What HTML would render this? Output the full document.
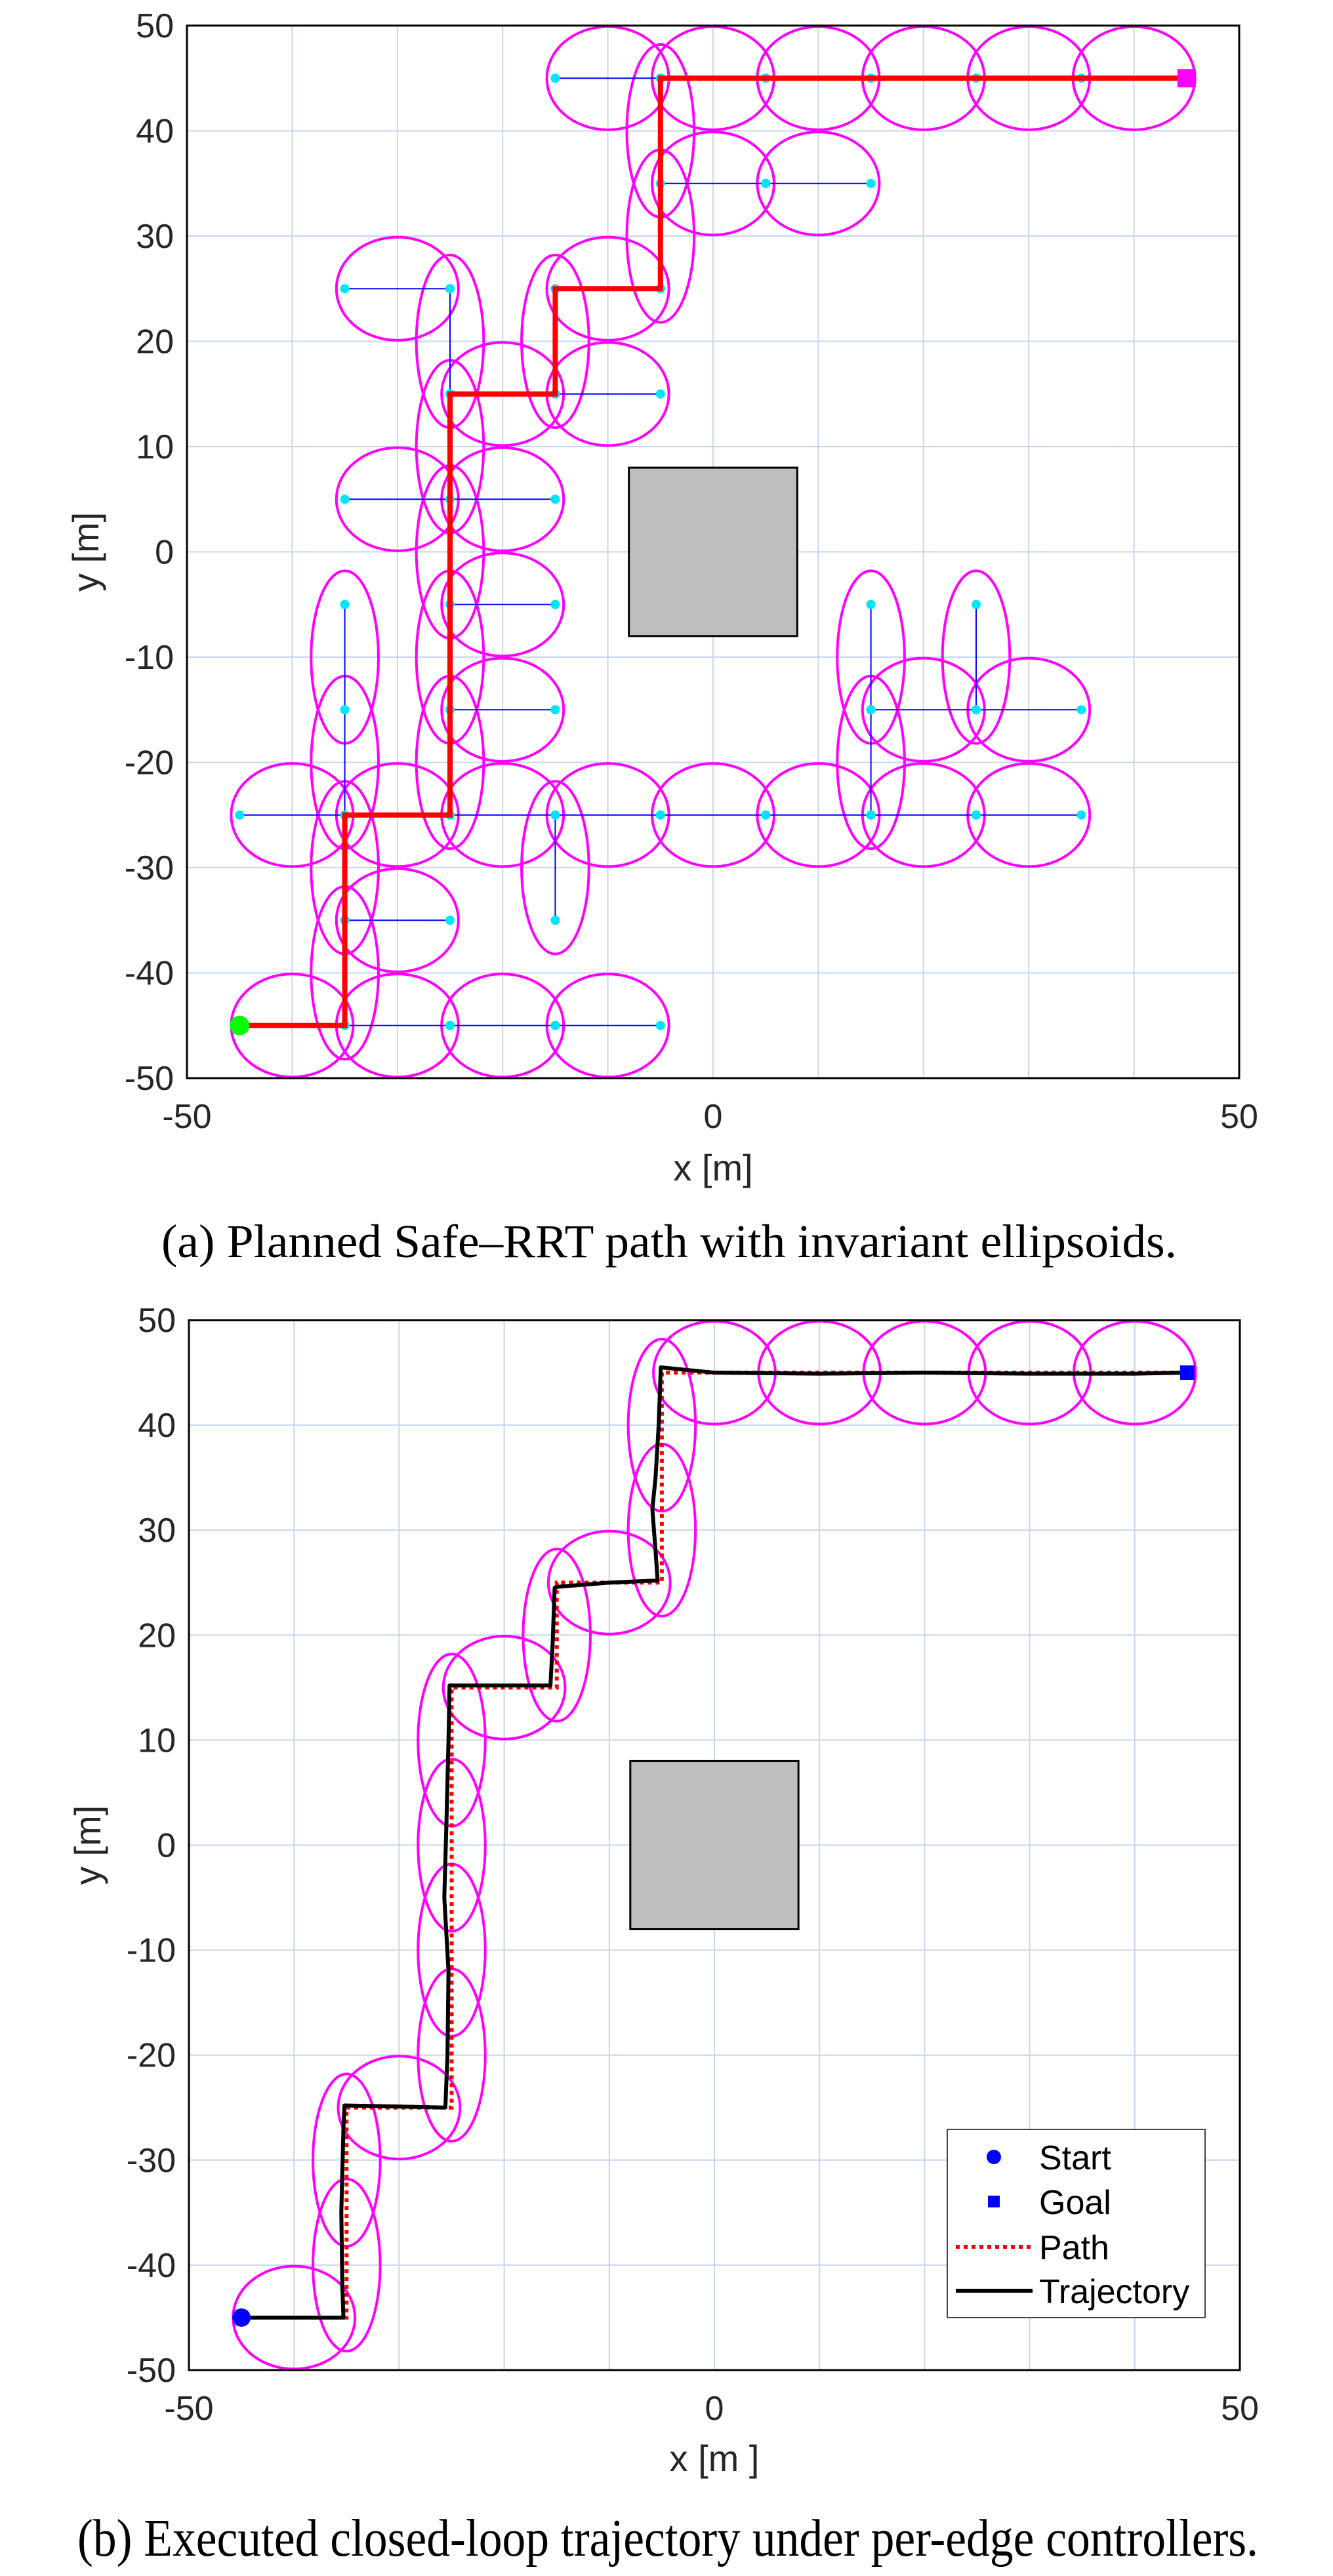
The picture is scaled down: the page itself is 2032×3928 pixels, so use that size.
<!DOCTYPE html>
<html><head><meta charset="utf-8"><style>
html,body{margin:0;padding:0;background:#fff;}
svg{display:block;}
</style></head><body>
<svg id="fig" xmlns="http://www.w3.org/2000/svg" width="2032" height="3928" viewBox="0 0 2032 3928">
<rect width="2032" height="3928" fill="#fff"/>
<g id="pa"></g>
<g id="pb"></g>
<text x="246" y="1917" font-family="Liberation Serif, serif" font-size="72" textLength="1548" lengthAdjust="spacingAndGlyphs">(a) Planned Safe–RRT path with invariant ellipsoids.</text>
<text x="118" y="3897" font-family="Liberation Serif, serif" font-size="80" textLength="1800" lengthAdjust="spacingAndGlyphs">(b) Executed closed-loop trajectory under per-edge controllers.</text>
</svg>
<script>
// ---- data ----
const xTicks = [-50, 0, 50];
const yTicks = [50, 40, 30, 20, 10, 0, -10, -20, -30, -40, -50];
const gridVals = [-40, -30, -20, -10, 0, 10, 20, 30, 40];
const obstacle = [-8, -8, 8, 8]; // xmin, ymin, xmax, ymax
const treeEdges = [
 [-15,45,-5,45],[-5,45,5,45],[5,45,15,45],[15,45,25,45],[25,45,35,45],[35,45,45,45],
 [-5,25,-5,35],[-5,35,-5,45],[-5,35,5,35],[5,35,15,35],
 [-15,25,-5,25],[-15,15,-15,25],[-25,15,-15,15],[-15,15,-5,15],
 [-35,25,-25,25],[-25,25,-25,15],[-25,15,-25,5],[-25,5,-25,-5],[-25,-5,-25,-15],[-25,-15,-25,-25],
 [-35,5,-25,5],[-25,5,-15,5],[-25,-5,-15,-5],[-25,-15,-15,-15],
 [-35,-5,-35,-15],[-35,-15,-35,-25],[-35,-25,-35,-35],[-35,-35,-35,-45],
 [-45,-25,-35,-25],[-35,-25,-25,-25],[-25,-25,-15,-25],[-15,-25,-5,-25],[-5,-25,5,-25],[5,-25,15,-25],[15,-25,25,-25],[25,-25,35,-25],
 [-15,-25,-15,-35],[-35,-35,-25,-35],
 [-45,-45,-35,-45],[-35,-45,-25,-45],[-25,-45,-15,-45],[-15,-45,-5,-45],
 [15,-5,15,-15],[15,-15,15,-25],[25,-5,25,-15],[15,-15,25,-15],[25,-15,35,-15]
];
const pathX = [-45,-35,-35,-25,-25,-15,-15,-5,-5,45];
const pathY = [-45,-45,-25,-25,15,15,25,25,45,45];
const trajX = [-45,-35.3,-35.4,-35.5,-35.3,-35.2,-30,-25.6,-25.4,-25.3,-25.7,-25.5,-25.3,-25.2,-20,-15.6,-15.4,-15.2,-14.9,-10,-5.4,-5.6,-5.9,-5.6,-5.3,-5.1,0,10,20,30,40,45];
const trajY = [-45,-45,-42,-35,-27,-24.8,-24.9,-25,-20,-12,-5,2,10,15.2,15.2,15.2,19,24.5,24.6,25,25.2,28,32,35,40,45.5,45,44.9,45,44.9,44.9,45];
const ellipseA = 5.8, ellipseB = 4.9, vA = 3.2, vB = 8.2;

const NS = "http://www.w3.org/2000/svg";
function mk(parent, tag, attrs, name) {
  const el = document.createElementNS(NS, tag);
  for (const k in attrs) el.setAttribute(k, attrs[k]);
  
  
  parent.appendChild(el);
  return el;
}
function makeAxes(L, T, R, B) {
  const sx = x => L + (x + 50) / 100 * (R - L);
  const sy = y => T + (50 - y) / 100 * (B - T);
  return {sx, sy, L, T, R, B};
}
function drawFrame(g, ax, xlab, labY, xtY, ylx) {
  const {sx, sy, L, T, R, B} = ax;
  gridVals.forEach(v => {
    const gl = mk(g, 'line', {x1: sx(v), x2: sx(v), y1: T, y2: B, stroke: '#c6d6f2', 'stroke-width': 2}, 'grid-line-x');
    const gl2 = mk(g, 'line', {x1: L, x2: R, y1: sy(v), y2: sy(v), stroke: '#c6d6f2', 'stroke-width': 2}, 'grid-line-y');
  });
  const ob = mk(g, 'rect', {x: sx(obstacle[0]), y: sy(obstacle[3]), width: sx(obstacle[2]) - sx(obstacle[0]), height: sy(obstacle[1]) - sy(obstacle[3]), fill: '#bebebe', stroke: '#000', 'stroke-width': 3}, 'obstacle');
  xTicks.forEach(v => {
    const t = mk(g, 'text', {x: sx(v), y: xtY, 'text-anchor': 'middle', 'font-family': 'Liberation Sans, sans-serif', 'font-size': 52, fill: '#262626'}, 'x-tick-label');
    t.textContent = v;
  });
  yTicks.forEach(v => {
    const t = mk(g, 'text', {x: L - 20, y: sy(v) + 18, 'text-anchor': 'end', 'font-family': 'Liberation Sans, sans-serif', 'font-size': 52, fill: '#262626'}, 'y-tick-label');
    t.textContent = v;
  });
  const xl = mk(g, 'text', {x: (L + R) / 2, y: labY, 'text-anchor': 'middle', 'font-family': 'Liberation Sans, sans-serif', 'font-size': 56, fill: '#262626'}, 'x-axis-title');
  xl.textContent = xlab;
  const cy = (T + B) / 2;
  const yl = mk(g, 'text', {x: ylx, y: cy, 'text-anchor': 'middle', 'font-family': 'Liberation Sans, sans-serif', 'font-size': 56, fill: '#262626', transform: `rotate(-90 ${ylx} ${cy})`}, 'y-axis-title');
  yl.textContent = 'y [m]';
}
function drawEllipse(g, ax, e) {
  const {sx, sy} = ax;
  const cx = (e[0] + e[2]) / 2, cy = (e[1] + e[3]) / 2;
  const horiz = e[1] === e[3];
  const a = horiz ? ellipseA : vA, b = horiz ? ellipseB : vB;
  mk(g, 'ellipse', {cx: sx(cx), cy: sy(cy), rx: Math.abs(sx(a) - sx(0)), ry: Math.abs(sy(b) - sy(0)), fill: 'none', stroke: '#ff00ff', 'stroke-width': 4}, 'invariant-ellipsoid');
}
function pts(ax, xs, ys) { return xs.map((x, i) => ax.sx(x) + ',' + ax.sy(ys[i])).join(' '); }

// ---- Plot A ----
const gA = document.getElementById('pa');
const A = makeAxes(285, 39, 1889, 1644);
drawFrame(gA, A, 'x [m]', 1800, 1720, 150);
treeEdges.forEach(e => drawEllipse(gA, A, e));
treeEdges.forEach(e => {
  mk(gA, 'line', {x1: A.sx(e[0]), y1: A.sy(e[1]), x2: A.sx(e[2]), y2: A.sy(e[3]), stroke: '#0000ff', 'stroke-width': 2}, 'tree-edge');
});
treeEdges.forEach(e => {
  mk(gA, 'circle', {cx: A.sx(e[0]), cy: A.sy(e[1]), r: 7, fill: '#00e5ff'}, 'tree-node');
  mk(gA, 'circle', {cx: A.sx(e[2]), cy: A.sy(e[3]), r: 7, fill: '#00e5ff'}, 'tree-node');
});
mk(gA, 'polyline', {points: pts(A, pathX, pathY), fill: 'none', stroke: '#ff0000', 'stroke-width': 8}, 'planned-path');
mk(gA, 'circle', {cx: A.sx(pathX[0]), cy: A.sy(pathY[0]), r: 15, fill: '#00ff00'}, 'start-marker');
mk(gA, 'rect', {x: A.sx(pathX[pathX.length-1]) - 14, y: A.sy(pathY[pathY.length-1]) - 14, width: 28, height: 28, fill: '#ff00ff'}, 'goal-marker');
mk(gA, 'rect', {x: A.L, y: A.T, width: A.R - A.L, height: A.B - A.T, fill: 'none', stroke: '#000', 'stroke-width': 3}, 'axes-box');

// ---- Plot B ----
const gB = document.getElementById('pb');
const Bx = makeAxes(288, 2013, 1890, 3614);
drawFrame(gB, Bx, 'x [m ]', 3768, 3690, 153);
for (let i = 0; i < pathX.length - 1; i++) {
  const x0 = pathX[i], y0 = pathY[i], x1 = pathX[i+1], y1 = pathY[i+1];
  const n = Math.round(Math.max(Math.abs(x1 - x0), Math.abs(y1 - y0)) / 10);
  for (let k = 0; k < n; k++) {
    const a = [x0 + (x1 - x0) * k / n, y0 + (y1 - y0) * k / n, x0 + (x1 - x0) * (k + 1) / n, y0 + (y1 - y0) * (k + 1) / n];
    drawEllipse(gB, Bx, a);
  }
}
mk(gB, 'polyline', {points: pts(Bx, pathX, pathY), fill: 'none', stroke: '#ff0000', 'stroke-width': 6, 'stroke-dasharray': '6 6'}, 'path-line');
mk(gB, 'polyline', {points: pts(Bx, trajX, trajY), fill: 'none', stroke: '#000', 'stroke-width': 6, 'stroke-linejoin': 'round'}, 'trajectory-line');
mk(gB, 'circle', {cx: Bx.sx(pathX[0]), cy: Bx.sy(pathY[0]), r: 14, fill: '#0000ff'}, 'start-marker');
mk(gB, 'rect', {x: Bx.sx(pathX[pathX.length-1]) - 11, y: Bx.sy(pathY[pathY.length-1]) - 11, width: 22, height: 22, fill: '#0000ff'}, 'goal-marker');
mk(gB, 'rect', {x: Bx.L, y: Bx.T, width: Bx.R - Bx.L, height: Bx.B - Bx.T, fill: 'none', stroke: '#000', 'stroke-width': 3}, 'axes-box');

// legend
const lg = mk(gB, 'g', {}, 'legend');
mk(lg, 'rect', {x: 1444, y: 3247, width: 393, height: 287, fill: '#fff', stroke: '#444', 'stroke-width': 2}, 'legend-box');
mk(lg, 'circle', {cx: 1515, cy: 3289, r: 11, fill: '#0000ff'}, 'legend-start-marker');
mk(lg, 'rect', {x: 1506, y: 3348, width: 18, height: 18, fill: '#0000ff'}, 'legend-goal-marker');
mk(lg, 'line', {x1: 1457, x2: 1574, y1: 3426, y2: 3426, stroke: '#ff0000', 'stroke-width': 6, 'stroke-dasharray': '6 6'}, 'legend-path-line');
mk(lg, 'line', {x1: 1457, x2: 1574, y1: 3493, y2: 3493, stroke: '#000', 'stroke-width': 6}, 'legend-trajectory-line');
const labels = ['Start', 'Goal', 'Path', 'Trajectory'];
const ly = [3289, 3357, 3426, 3493];
labels.forEach((s, i) => {
  const t = mk(lg, 'text', {x: 1584, y: ly[i] + 19, 'font-family': 'Liberation Sans, sans-serif', 'font-size': 52, fill: '#000'}, 'legend-entry');
  t.textContent = s;
});
</script>
</body></html>
